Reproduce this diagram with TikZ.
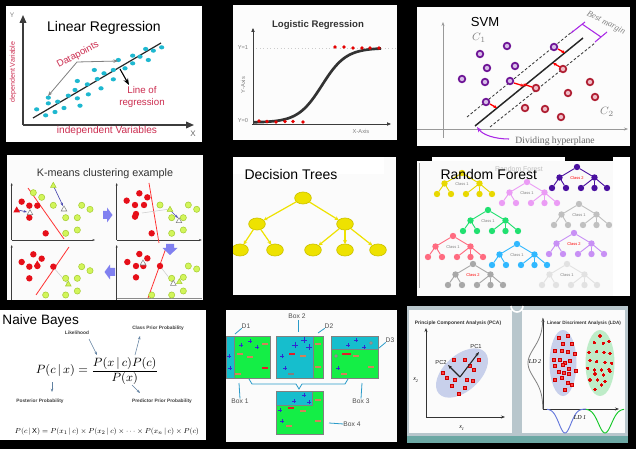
\documentclass[tikz,border=0pt]{standalone}
\usepackage{amsmath}
\usepackage{graphicx}
\usepackage{fontspec}
\setmainfont{Liberation Sans}
\newfontfamily\tmsfont{Liberation Serif}
\usetikzlibrary{arrows.meta,calc,shapes.geometric}
\definecolor{lrred}{RGB}{204,45,80}
\definecolor{lrcyan}{RGB}{30,184,208}
\definecolor{axisgray}{RGB}{60,60,60}
\definecolor{svmpurple}{RGB}{110,20,150}
\definecolor{svmpurplein}{RGB}{215,190,232}
\definecolor{svmred}{RGB}{175,30,50}
\definecolor{svmredin}{RGB}{240,190,200}
\definecolor{marginviolet}{RGB}{170,40,230}
\definecolor{kred}{RGB}{230,15,25}
\definecolor{kgreen}{RGB}{210,245,90}
\definecolor{kgreenb}{RGB}{165,205,50}
\definecolor{karrow}{RGB}{128,128,240}
\definecolor{dtyellow}{RGB}{238,226,0}
\definecolor{dtborder}{RGB}{205,195,0}
\definecolor{boxcyan}{RGB}{22,190,205}
\definecolor{boxgreen}{RGB}{20,238,70}
\definecolor{pluscol}{RGB}{50,40,210}
\definecolor{minusred}{RGB}{225,30,40}
\definecolor{minusor}{RGB}{210,130,90}
\definecolor{framegray}{RGB}{184,198,204}
\definecolor{frameteal}{RGB}{108,168,164}
\definecolor{ellblue}{RGB}{200,208,235}
\definecolor{ellgreen}{RGB}{190,236,200}
\definecolor{ldblue}{RGB}{100,120,220}
\definecolor{ldgreen}{RGB}{20,200,40}
\definecolor{nbarrow}{RGB}{96,128,160}
\definecolor{rfyellow}{RGB}{232,216,0}
\definecolor{rfdpurple}{RGB}{74,16,160}
\definecolor{rfviolet}{RGB}{235,156,245}
\definecolor{rfgreen}{RGB}{32,224,112}
\definecolor{rflgray}{RGB}{192,192,192}
\definecolor{rfpink}{RGB}{255,107,128}
\definecolor{rfblue}{RGB}{48,184,255}
\definecolor{rflpurple}{RGB}{200,144,245}
\definecolor{rfgray}{RGB}{168,168,168}
\definecolor{rfvlgray}{RGB}{226,226,226}
\newcommand\rftree[6]{%
  \node[rfn, fill=#2] (#1r) at (#3,#4) {};
  \node[rfn, fill=#2] (#1a) at ({#3-17.5},{#4+10.5}) {};
  \node[rfn, fill=#2] (#1b) at ({#3+17.5},{#4+10.5}) {};
  \node[rfn, fill=#2] (#1c) at ({#3-25},{#4+21}) {};
  \node[rfn, fill=#2] (#1d) at ({#3-11},{#4+21}) {};
  \node[rfn, fill=#2] (#1e) at ({#3+4},{#4+21}) {};
  \node[rfn, fill=#2] (#1f) at ({#3+17.5},{#4+21}) {};
  \node[rfn, fill=#2] (#1g) at ({#3+30},{#4+21}) {};
  \draw[#2, line width=0.7pt] (#1r) -- (#1a) (#1r) -- (#1b) (#1a) -- (#1c) (#1a) -- (#1d)
     (#1b) -- (#1e) (#1b) -- (#1f) (#1b) -- (#1g);
  \node[text=#5, font=\fontsize{3}{3}\selectfont] (#1t) at (#3,{#4+11}) {#6};
}
\newcommand\pls[3]{\draw[pluscol, line width=0.6pt] ({#1-#3},#2) -- ({#1+#3},#2) (#1,{#2-#3}) -- (#1,{#2+#3});}
\newcommand\mns[3]{\draw[#3, line width=0.9pt] ({#1-2.8},#2) -- ({#1+2.8},#2);}
\newcommand\xsq[2]{\draw[red!80!black, line width=0.3pt, fill=red!75] ({#1-1.4},{#2-1.4}) rectangle ({#1+1.4},{#2+1.4});}
\newcommand\ktri[4]{\filldraw[fill=#3, draw=#4, line width=0.4pt] (#1,{#2-3}) -- ++(2.8,5) -- ++(-5.6,0) -- cycle;}
\begin{document}
\begin{tikzpicture}[x=0.75pt,y=-0.75pt,
  every node/.style={inner sep=0pt,outer sep=0pt},
  rfn/.style={circle, minimum size=4.8pt, draw=none},
  dtnode/.style={ellipse, fill=dtyellow, draw=dtborder, line width=0.5pt, minimum width=12.5pt, minimum height=9pt},
  dtedge/.style={dtyellow, line width=0.9pt, -{Stealth[length=3pt,width=3pt]}},
  boxlbl/.style={text=black!70, font=\fontsize{5}{5}\selectfont},
  boxptr/.style={cyan!60!teal, line width=0.6pt},
  nblbl/.style={text=black!75, font=\bfseries\fontsize{3.6}{4}\selectfont},
  nbarr/.style={nbarrow, line width=0.4pt, -{Stealth[length=2.5pt]}}]
\useasboundingbox (0,0) rectangle (636,449);
\fill[black] (0,0) rectangle (636,449);

%% ---------- Panel 1: Linear Regression ----------
\fill[white] (6,6) rectangle (202,142);
\draw[axisgray,line width=1.1pt,-{Triangle[length=6pt,width=5pt]}] (23,125) -- (23,15);
\draw[axisgray,line width=1.1pt,-{Triangle[length=6pt,width=5pt]}] (23,125) -- (194,125);
\node[text=gray, font=\fontsize{5}{5}\selectfont] (lrY) at (12,15) {Y};
\node[text=gray!80!black, font=\fontsize{6}{6}\selectfont] (lrX) at (193,134) {X};
\draw[black!85, line width=0.9pt] (33,118) -- (161,43);
\foreach \a/\b in {110/328,137/346,165/336,192/324,145/293,145/310,173/305,205/287,225/270,232/243,232/295,240/317,265/283,262/253,283/210,292/237,303/265,312/220,340/210,340/238,355/180,375/205,398/190,398/167,420/170,437/147,445/180,460/152,485/142}
  \fill[lrcyan] ({\a/3},{\b/3}) ellipse (2.6 and 2.1);
\node[font=\fontsize{10.5}{12}\selectfont] (lrT) at (104,28) {Linear Regression};
\node[rotate=90,text=lrred,font=\fontsize{5.3}{6}\selectfont] (lrDV) at (13,72) {dependent Variable};
\node[text=lrred,font=\fontsize{7.6}{8}\selectfont] (lrIV) at (107,131) {independent Variables};
\node[rotate=28,text=lrred,font=\fontsize{7.2}{8}\selectfont] (lrDP) at (78,55) {Datapoints};
\coordinate (lrA) at (118,61); \coordinate (lrM) at (77,62); \coordinate (lrB) at (48,96);
\draw[gray, line width=0.6pt, {Stealth[length=3.5pt]}-{Stealth[length=3.5pt]}] (lrA) -- (lrM) -- (lrB);
\coordinate (lrC) at (120,69); \coordinate (lrD) at (129,85);
\draw[black, line width=0.8pt, -{Stealth[length=5pt]}] (lrC) -- (lrD);
\node[text=lrred, font=\fontsize{7.3}{8.5}\selectfont, align=center] (lrLR) at (142,97) {Line of\\regression};

%% ---------- Panel 2: Logistic Regression ----------
\fill[white!98!gray] (233,5) rectangle (397,140);
\draw[gray!40, dotted, line width=0.6pt] (253,48) -- (396,48);
\draw[axisgray,line width=0.6pt,-{Triangle[length=3pt,width=2.5pt]}] (253,124) -- (253,28);
\draw[axisgray,line width=0.6pt,-{Triangle[length=3pt,width=2.5pt]}] (252,124) -- (391,124);
\node[text=black!80, font=\bfseries\fontsize{7.2}{8}\selectfont] (lgT) at (318,25) {Logistic Regression};
\node[text=gray, font=\fontsize{4.3}{5}\selectfont] (lgY1) at (243,48) {Y=1};
\node[text=gray, font=\fontsize{4.3}{5}\selectfont] (lgY0) at (243,121) {Y=0};
\node[text=gray, rotate=90, font=\fontsize{4.3}{5}\selectfont] (lgYA) at (243,85) {Y-Axis};
\node[text=gray, font=\fontsize{4.3}{5}\selectfont] (lgXA) at (361,131) {X-Axis};
\draw[black!80, line width=2pt, domain=254:381, samples=80, smooth] plot (\x, {122.5-74.5/(1+exp(-(\x-322)/12))});
\foreach \a/\b in {259/121,267/121.5,276/122,285/121.5,293/121.5,303/122,335/47,344/47,353/48,362/48,370/48,379/48}
  \fill[red!90!black] (\a,\b) circle (1.9);

%% ---------- Panel 3: SVM ----------
\fill[white!98!gray] (417,7) rectangle (630,146);
\begin{scope}
\clip (417,7) rectangle (630,146);
\draw[gray!80,line width=0.5pt,-{Stealth[length=3pt]}] (443,138) -- (443,22);
\draw[gray!80,line width=0.5pt,-{Stealth[length=3pt]}] (417,129) -- (628,129);
\draw[black!85, line width=1.1pt] (475,126) -- (583,38);
\draw[black!80, line width=0.6pt, dash pattern=on 2pt off 1.5pt] (467,117) -- (573,31);
\draw[black!80, line width=0.6pt, dash pattern=on 2pt off 1.5pt] (490,127) -- (595,43);
\draw[marginviolet, line width=0.8pt] (571,33) -- (585,22) (582,24) -- (601,37) (595,42) -- (607,32);
\node[text=gray, rotate=-27, font=\tmsfont\itshape\fontsize{6.5}{7}\selectfont] (svBM) at (606,23) {Best margin};
\node[text=gray!80!black, font=\tmsfont\fontsize{7.2}{8}\selectfont] (svDH) at (555,141) {Dividing hyperplane};
\coordinate (svA) at (509,139); \coordinate (svB) at (477,127);
\draw[marginviolet, line width=0.8pt, -{Stealth[length=4pt]}] (svA) .. controls (495,139) and (483,135) .. (svB);
\foreach \a/\b in {507/46,480/54,487/68,515/66,462/79,485/82,510/81,554/47,486/102}
  \filldraw[draw=svmpurple, fill=svmpurplein, line width=1.3pt] (\a,\b) circle (3.3);
\foreach \a/\b in {563/69,536/88,590/82,568/93,595/97,525/108,545/109,561/117}
  \filldraw[draw=svmred, fill=svmredin, line width=1.3pt] (\a,\b) circle (3.3);
\foreach \a/\b/\c/\d in {558/49/565/53, 560/67/553/63, 514/83/524/86, 532/87/523/84, 490/104/497/108}
  \draw[red, line width=1pt, -{Stealth[length=2.5pt,width=2.5pt]}] (\a,\b) -- (\c,\d);
\end{scope}
\node[font=\fontsize{9.8}{11}\selectfont] (svT) at (485,22) {SVM};
\node[text=gray, font=\fontsize{8}{8}\selectfont] (svC1) at (479,38) {$C_1$};
\node[text=gray, font=\fontsize{8}{8}\selectfont] (svC2) at (607,112) {$C_2$};

%% ---------- Panel 4: K-means ----------
\fill[white!97!gray] (7,155) rectangle (203,300);
\begin{scope}
\clip (7,155) rectangle (203,300);
\node[text=black!80, font=\fontsize{8.1}{9}\selectfont] (kmT) at (105,174) {K-means clustering example};
\draw[axisgray, line width=0.4pt, -{Stealth[length=2pt]}] (11.7,240) -- (11.7,183);
\draw[axisgray, line width=0.4pt, -{Stealth[length=2pt]}] (11.7,240) -- (95,240);
\draw[axisgray, line width=0.4pt, -{Stealth[length=2pt]}] (116.7,240) -- (116.7,183);
\draw[axisgray, line width=0.4pt, -{Stealth[length=2pt]}] (116.7,240) -- (201.7,240);
\draw[axisgray, line width=0.4pt, -{Stealth[length=2pt]}] (11.7,300) -- (11.7,245);
\draw[axisgray, line width=0.4pt, -{Stealth[length=2pt]}] (116.7,300) -- (116.7,245);
\draw[axisgray!60, line width=0.4pt] (116.7,298.5) -- (201.7,298.5);
\draw[red!80, line width=0.6pt] (28,188) -- (64,239);
\draw[red!80, line width=0.6pt] (149,183) -- (159,243);
\draw[red!80, line width=0.6pt] (69,247) -- (36,295);
\draw[red!80, line width=0.6pt] (166,248) -- (148,298);
\draw[gray!40, line width=0.4pt] (53,267) -- (68,284);
\draw[gray!40, line width=0.4pt] (160,266) -- (173,283);
\draw[gray!40, line width=0.4pt] (142,213) -- (170,209);
\draw[blue!40!gray, line width=0.5pt, -{Stealth[length=2.5pt]}] (54,187) -- (63,206);
\draw[blue!40!gray, line width=0.5pt, -{Stealth[length=2.5pt]}] (18,210) -- (27,212);
\draw[blue!40!gray, line width=0.5pt, -{Stealth[length=2.5pt]}] (171,211) -- (178,218);
\foreach \a/\b in {65/155,88/167,112/167,88/203,137/250, 380/152,418/130,442/142,405/165,432/165,405/200,455/250,408/192, 100/313,125/326,65/336,88/350,160/350,88/385,112/348, 418/312,442/325,382/336,408/348,430/348,480/348,408/382}
  \fill[kred] ({\a/3},{150+\b/3}) circle (3.2);
\foreach \a/\b in {100/128,125/142,160/166,197/203,232/203,245/166,270/178,197/250,232/240, 480/165,515/203,550/203,565/165,590/178,515/250,550/240, 245/350,270/362,197/385,232/385,232/423,197/435,137/435, 565/348,590/357,515/385,550/382,550/423,515/435,455/435}
  \filldraw[fill=kgreen, draw=kgreenb, line width=0.4pt] ({\a/3},{150+\b/3}) circle (3.1);
\ktri{16.7}{210}{kred}{kred}
\ktri{64}{209}{white}{gray}
\ktri{30}{212.7}{white}{gray}
\ktri{53.3}{185.3}{kgreen}{kgreenb}
\ktri{179}{220.7}{white}{gray}
\ktri{170}{209.3}{kgreen}{kgreenb}
\ktri{68.3}{284}{kgreen}{kgreenb}
\ktri{37.3}{264}{kred}{kred}
\ktri{173.3}{283.3}{white}{gray}
\ktri{179.3}{281.7}{kgreen}{kgreenb}
\ktri{143}{263}{white}{gray}
\fill[karrow] (103,211) -- (107,211) -- (107,207.5) -- (112.5,215) -- (107,222.5) -- (107,219) -- (103,219) -- cycle;
\fill[karrow] (166,244) -- (174,244) -- (174,248) -- (177.5,248) -- (170,255) -- (162.5,248) -- (166,248) -- cycle;
\fill[karrow] (115,268) -- (110,268) -- (110,264.5) -- (104.5,272) -- (110,279.5) -- (110,276) -- (115,276) -- cycle;
\end{scope}

%% ---------- Panel 5: Decision Trees ----------
\fill[white!97!gray] (233,157) rectangle (396,295);
\fill[white] (233,157) rectangle (384,174);
\begin{scope}
\clip (233,157) rectangle (396,295);
\node[font=\fontsize{10.5}{12}\selectfont, anchor=west] (dtT) at (244.5,174) {Decision Trees};
\node[dtnode] (dt0) at (303,198) {};
\node[dtnode] (dt1) at (257,224) {};
\node[dtnode] (dt2) at (345,224) {};
\node[dtnode] (dt3) at (240,250) {};
\node[dtnode] (dt4) at (275,250) {};
\node[dtnode] (dt5) at (313,250) {};
\node[dtnode] (dt6) at (345,250) {};
\node[dtnode] (dt7) at (378,250) {};
\draw[dtedge] (dt0) -- (dt1);
\draw[dtedge] (dt0) -- (dt2);
\draw[dtedge] (dt1) -- (dt3);
\draw[dtedge] (dt1) -- (dt4);
\draw[dtedge] (dt2) -- (dt5);
\draw[dtedge] (dt2) -- (dt6);
\draw[dtedge] (dt2) -- (dt7);
\end{scope}

%% ---------- Panel 6: Random Forest ----------
\fill[white!96!gray] (417,161) rectangle (613,296);
\fill[white] (613,157) rectangle (630,296);
\fill[white] (432,157) rectangle (565,161);
\fill[gray!70] (418.5,163) rectangle (420,288);
\node[text=gray!50, font=\fontsize{5.2}{6}\selectfont] (rfBG) at (519,169) {Random Forest};
\rftree{ta}{rfyellow}{462}{173}{gray}{Class 1}
\rftree{tb}{rfdpurple}{577}{167}{red}{Class 2}
\rftree{tc}{rfviolet}{527}{182}{gray}{Class 1}
\rftree{td}{rfgreen}{488}{210}{gray}{Class 1}
\rftree{te}{rflgray}{579}{204}{gray}{Class 1}
\rftree{tf}{rfpink}{453}{236}{gray}{Class 1}
\rftree{tg}{rfblue}{517}{244}{gray}{Class 1}
\rftree{th}{rflpurple}{574}{233}{red}{Class 2}
\rftree{ti}{rfgray}{473}{264}{red}{Class 2}
\rftree{tj}{rfvlgray}{567}{264}{gray}{Class 1}
\node[font=\fontsize{10.5}{12}\selectfont, anchor=west] (rfT) at (440.5,174) {Random Forest};

%% ---------- Panel 7: Naive Bayes ----------
\fill[white] (0,310) rectangle (206,440);
\node[font=\fontsize{10.2}{12}\selectfont, anchor=west] (nbT) at (2.5,321) {Naive Bayes};
\node (nbF) at (97,371) {\fontsize{8.6}{10}\selectfont $P(c\,|\,x)=\dfrac{P(x\,|\,c)P(c)}{P(x)}$};
\node[nblbl] (nbL) at (77,333) {Likelihood};
\node[nblbl] (nbC) at (158,328) {Class Prior Probability};
\node[nblbl] (nbP) at (40,401) {Posterior Probability};
\node[nblbl] (nbD) at (162,401) {Predictor Prior Probability};
\coordinate (nbL1) at (89,339); \coordinate (nbL2) at (97,355);
\coordinate (nbC1) at (135,355); \coordinate (nbC2) at (140,336);
\coordinate (nbP1) at (52,382); \coordinate (nbP2) at (52,392);
\coordinate (nbD1) at (132,385); \coordinate (nbD2) at (140,393);
\draw[nbarr] (nbL1) -- (nbL2);
\draw[nbarr] (nbC1) -- (nbC2);
\draw[nbarr] (nbP1) -- (nbP2);
\draw[nbarr] (nbD1) -- (nbD2);
\node (nbG) at (107,432) {\resizebox{138pt}{!}{\fontsize{8}{10}\selectfont $P(c\,|\,\mathrm{X}) = P(x_1\,|\,c)\times P(x_2\,|\,c)\times\cdots\times P(x_n\,|\,c)\times P(c)$}};

%% ---------- Panel 8: Boxes ----------
\fill[white!97!gray] (226,310) rectangle (397,442);
\fill[boxgreen] (226,336) rectangle (270,378);
\fill[boxcyan] (226,336) rectangle (234,378);
\draw[gray, line width=0.6pt] (226,336) rectangle (270,378);
\fill[boxgreen] (276,336) rectangle (323,378);
\fill[boxcyan] (276,336) rectangle (313,378);
\draw[gray, line width=0.6pt] (276,336) rectangle (323,378);
\fill[boxgreen] (331,336) rectangle (378,378);
\fill[boxcyan] (331,336) rectangle (378,349);
\draw[gray, line width=0.6pt] (331,336) rectangle (378,378) (331,349) -- (378,349);
\fill[boxgreen] (276,391) rectangle (323,434);
\fill[boxcyan] (276,391) rectangle (312,405);
\draw[gray, line width=0.6pt] (276,391) rectangle (323,434) (276,405) -- (312,405) -- (312,391);
\draw[gray, line width=0.6pt] (313,336) -- (313,378) (234,336) -- (234,378);
\pls{229}{356}{1.8} \pls{230}{368}{1.8} \pls{241}{345}{1.8} \pls{250}{341}{1.8} \pls{257}{347}{1.8}
\mns{265}{344}{minusor} \mns{240}{354}{minusor} \mns{250}{357}{minusor} \mns{265}{368}{minusred} \mns{238}{374}{minusor}
\pls{295}{345}{3.2} \pls{304}{340}{3.2} \pls{309}{347}{3.2} \pls{282}{356}{1.8} \pls{285}{368}{1.8}
\mns{292}{354}{minusred} \mns{303}{356}{minusor} \mns{291}{374}{gray} \mns{318}{344}{minusor} \mns{318}{367}{minusor}
\pls{348}{345}{1.8} \pls{356}{340}{1.8} \pls{364}{347}{1.8} \pls{338}{368}{1.8}
\filldraw[fill=gray!70, draw=gray] (371,343) circle (1.6) (336,356) circle (1.6);
\draw[minusred, line width=1pt] (342,354) -- (351,354);
\mns{356}{356}{minusor} \mns{344}{374}{minusor} \mns{371}{367}{minusor}
\pls{304}{395}{1.8} \pls{294}{401}{1.8} \pls{309}{402}{1.8} \pls{280}{410}{1.8} \pls{282}{421}{1.8}
\mns{291}{408}{minusred} \mns{303}{411}{minusor} \mns{318}{400}{minusor} \mns{318}{421}{minusor} \mns{289}{426}{minusor}
\node[boxlbl] (bxD1) at (246,326) {D1};
\node[boxlbl] (bxB2) at (297,316) {Box 2};
\node[boxlbl] (bxD2) at (329,326) {D2};
\node[boxlbl] (bxD3) at (390,340) {D3};
\node[boxlbl] (bxB1) at (240,401) {Box 1};
\node[boxlbl] (bxB3) at (361,401) {Box 3};
\node[boxlbl] (bxB4) at (352,424) {Box 4};
\coordinate (bxP1) at (235,334); \coordinate (bxP2) at (298,320); \coordinate (bxP2b) at (298,332);
\coordinate (bxP3) at (318,333); \coordinate (bxP4) at (379,348);
\coordinate (bxP5) at (239,383); \coordinate (bxP6) at (362,383); \coordinate (bxP7) at (329,423);
\draw[boxptr] (bxP1) -- (bxD1.south west);
\draw[boxptr] (bxP2) -- (bxP2b);
\draw[boxptr] (bxP3) -- (bxD2.south west);
\draw[boxptr] (bxP4) -- (bxD3.south west);
\draw[boxptr] (bxP5) -- (bxB1.north);
\draw[boxptr] (bxP6) -- (bxB3.north);
\draw[boxptr] (bxP7) -- (bxB4.west);
\draw[boxptr] (249,379) -- (252,384) -- (296,384) -- (299,389) -- (302,384) -- (345,384) -- (348,379);

%% ---------- Panel 9: PCA / LDA ----------
\fill[framegray] (407,306) rectangle (628,443);
\fill[frameteal] (407,436) rectangle (628,443);
\fill[white!97!gray] (409,310) rectangle (512,433);
\fill[white!97!gray] (522,310) rectangle (625,433);
\draw[white, line width=1.2pt] (511,306) arc[start angle=180, end angle=0, radius=6];
% PCA
\node[text=black!80, font=\bfseries\fontsize{3.7}{4}\selectfont] (pcT) at (458,323) {Principle Component Analysis (PCA)};
\fill[ellblue, rotate around={42:(462,373)}] (462,373) ellipse (31 and 18);
\draw[black!80, line width=0.7pt, -{Stealth[length=3pt]}] (426,417) -- (426,328);
\draw[black!80, line width=0.7pt, -{Stealth[length=3pt]}] (426,417) -- (505,417);
\node[font=\tmsfont\itshape\fontsize{4.5}{5}\selectfont] (pcX2) at (416,380) {x\textsubscript{2}};
\node[font=\tmsfont\itshape\fontsize{4.5}{5}\selectfont] (pcX1) at (462,428) {x\textsubscript{1}};
\foreach \a/\b in {145/178,178/178,222/178,205/208,112/218,125/233,150/238,185/238,202/242,140/258,180/262,160/280,195/198}
  \xsq{\a/3+405}{\b/3+300}
\coordinate (pcO) at (460,377);
\node[text=black!85, font=\fontsize{4.3}{5}\selectfont] (pcP1) at (476,347) {PC1};
\node[text=black!85, font=\fontsize{4.3}{5}\selectfont] (pcP2) at (441,363) {PC2};
\draw[black!85, line width=0.8pt, -{Stealth[length=3pt]}] (pcO) -- (479,352);
\draw[black!85, line width=0.8pt, -{Stealth[length=3pt]}] (pcO) -- (448,365);
% LDA
\node[text=black!80, font=\bfseries\fontsize{3.5}{4}\selectfont] (ldT) at (584,323) {Linear Discriment Analysis (LDA)};
\fill[ellblue] (563,363) ellipse (13.5 and 33);
\fill[ellgreen] (600,363) ellipse (14.5 and 33);
\foreach \a/\b in {462/112,487/107,472/130,500/132,450/152,470/152,487/155,510/160,445/180,465/178,480/188,495/183,450/198,472/195,490/205,513/212,460/215,475/218,492/222,450/238,470/232,488/248,500/255,480/268}
  \xsq{\a/3+405}{\b/3+300}
\foreach \a/\b in {585/108,568/128,595/130,612/125,552/158,575/155,597/158,615/160,555/182,575/185,600/187,620/190,548/205,568/210,590/210,612/208,570/222,595/225,615/215,555/240,578/240,600/245,570/268,590/255}
  \fill[red!90!black] ({\a/3+405},{\b/3+300}) circle (1.3);
\draw[black!80, line width=0.7pt, -{Stealth[length=3pt]}] (543,409) -- (543,318);
\draw[black!80, line width=0.7pt, -{Stealth[length=3pt]}] (543,409) -- (619,409);
\draw[gray, line width=0.6pt, domain=318:409, samples=60, smooth] plot ({543-15*exp(-((\x-363)^2)/450)}, \x);
\draw[ldblue, line width=0.7pt, domain=547:586, samples=50, smooth] plot (\x, {409+24*exp(-((\x-565)^2)/72)});
\draw[ldgreen, line width=0.7pt, domain=586:624, samples=50, smooth] plot (\x, {409+24*exp(-((\x-605)^2)/85)});
\node[font=\tmsfont\itshape\fontsize{4.5}{5}\selectfont] (ldL2) at (535,362) {LD 2};
\node[font=\tmsfont\itshape\fontsize{4.5}{5}\selectfont] (ldL1) at (580,418) {LD 1};
\end{tikzpicture}
\end{document}
